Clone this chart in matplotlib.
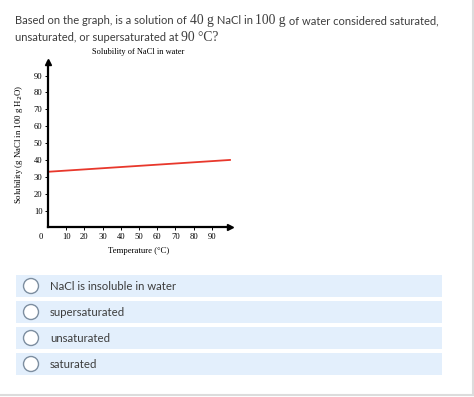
import matplotlib
matplotlib.use("Agg")
import matplotlib.pyplot as plt
from matplotlib.patches import Rectangle, Circle

# data
temps = [0, 50, 100]
solubility = [33, 36.5, 40]
x_ticks = [10, 20, 30, 40, 50, 60, 70, 80, 90]
y_ticks = [10, 20, 30, 40, 50, 60, 70, 80, 90]
options = ["NaCl is insoluble in water", "supersaturated", "unsaturated", "saturated"]

W, H = 474, 397
SANS = "Lato"
SERIF = "Liberation Serif"

fig = plt.figure(figsize=(W / 100, H / 100), dpi=100)
fig.patch.set_facecolor("white")


def px(x, y):
    # pixel coords from top-left -> figure fraction
    return x / W, 1 - y / H


def draw_pieces(x, y, pieces):
    # put text pieces one after another, each with its own font
    r = fig.canvas.get_renderer()
    cur = x
    for txt, fam, size in pieces:
        fx, fy = px(cur, y)
        t = fig.text(fx, fy, txt, family=fam, fontsize=size, color="#3d3d3d",
                     va="baseline", ha="left")
        bb = t.get_window_extent(renderer=r)
        cur += bb.width


# question text
q = 8.0
s = 9.8
line1 = [("Based on the graph, is a solution of ", SANS, q), ("40 g", SERIF, s),
         (" NaCl in ", SANS, q), ("100 g", SERIF, s),
         (" of water considered saturated,", SANS, q)]
line2 = [("unsaturated, or supersaturated at ", SANS, q), ("90 \u00b0C?", SERIF, s)]
draw_pieces(15, 24, line1)
draw_pieces(15, 41, line2)

# chart
ax = fig.add_axes([48 / W, 1 - 227.5 / H, 182 / W, (227.5 - 62) / H])
ax.plot(temps, solubility, color="#e8382c", lw=1.3, clip_on=False)
ax.set_xlim(0, 100)
ax.set_ylim(0, 98)
for sp in ["top", "right"]:
    ax.spines[sp].set_visible(False)
for sp in ["left", "bottom"]:
    ax.spines[sp].set_linewidth(1.6)
ax.plot(1, 0, ">k", ms=5, transform=ax.transAxes, clip_on=False)
ax.plot(0, 1, "^k", ms=5, transform=ax.transAxes, clip_on=False)
ax.set_xticks(x_ticks)
ax.set_yticks(y_ticks)
ax.tick_params(length=2.5, width=0.7, pad=1.5, labelsize=6.2)
for lab in ax.get_xticklabels() + ax.get_yticklabels():
    lab.set_family(SERIF)
ax.annotate("0", xy=(0, 0), xytext=(-5.5, -6.6), textcoords="offset points",
            ha="center", va="center", family=SERIF, fontsize=6.2)
ax.set_xlabel("Temperature (\u00b0C)", family=SERIF, fontsize=6.3, labelpad=4)
ax.set_ylabel("Solubility (g NaCl in 100 g H$_2$O)", family=SERIF, fontsize=6.3, labelpad=6)
fig.text(*px(138, 52), "Solubility of NaCl in water", family=SERIF, fontsize=6,
         ha="center", va="center")

# answer options
box_tops = [275, 301, 327, 353]
for top, opt in zip(box_tops, options):
    fig.patches.append(Rectangle(px(16, top + 22), 426 / W, 22 / H,
                                 transform=fig.transFigure, facecolor="#e3effc",
                                 edgecolor="none"))
    cy = 1 - (top + 11) / H
    fig.patches.append(Circle((31, H - (top + 11)), 7.5, transform=None,
                              facecolor="white", edgecolor="#7d8ea0", lw=1.0))
    fig.text(50 / W, cy, opt, family=SANS, fontsize=8.2, color="#3d3d3d",
             va="center", ha="left")

# card border at right / bottom
fig.add_artist(plt.Line2D([0, 472.5 / W], [1 - 395 / H] * 2, color="#dcdcdc",
                          lw=1.5, transform=fig.transFigure))
fig.add_artist(plt.Line2D([472.5 / W] * 2, [1 - 395 / H, 1], color="#dcdcdc",
                          lw=1.5, transform=fig.transFigure))

fig.savefig("out.png", dpi=100)
